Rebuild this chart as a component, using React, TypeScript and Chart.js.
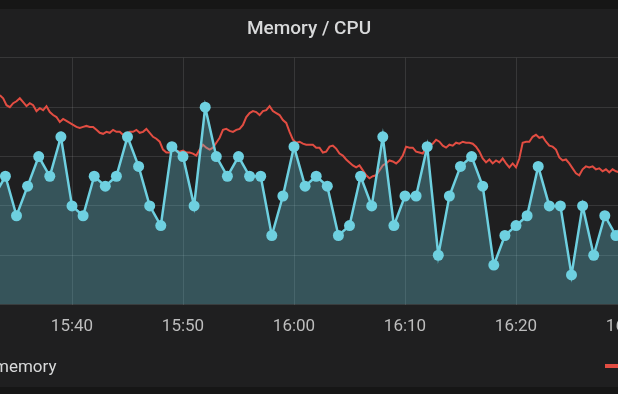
import { useEffect, useRef } from "react";
import { Chart, registerables } from "chart.js";

Chart.register(...registerables);

const TITLE = "Memory / CPU";
const SERIES_NAMES = ["memory", "cpu"];
const TICK_MINUTES = [930, 940, 950, 960, 970, 980, 990];

// memory: one value per minute starting at 15:33
const MEMORY_START = 933;
const MEMORY = [
  11, 13, 9, 12, 15, 13, 17, 10, 9, 13, 12, 13, 17, 14, 10, 8, 16, 15, 10, 20,
  15, 13, 15, 13, 13, 7, 11, 16, 12, 13, 12, 7, 8, 13, 10, 17, 8, 11, 11, 16,
  5, 11, 14, 15, 12, 4, 7, 8, 9, 14, 10, 10, 3, 10, 5, 9, 7, 9,
];

// cpu: sampled every 0.3 minute starting at 15:33.5
const CPU_START = 933.5;
const CPU_STEP = 0.3;
const CPU = [
  21.2, 20.9, 20.2, 20.0, 20.4, 20.6, 20.9, 20.5, 20.1, 20.4, 20.2, 19.6, 19.9, 19.7, 20.1, 19.5,
  19.2, 19.0, 18.5, 18.8, 18.6, 18.4, 18.2, 18.0, 17.9, 18.0, 18.1, 18.0, 18.0, 17.7, 17.4, 17.3,
  17.5, 17.4, 17.7, 17.5, 17.5, 17.2, 17.3, 17.5, 17.5, 17.7, 17.4, 17.5, 17.8, 17.4, 17.0, 16.8,
  16.5, 15.7, 15.4, 15.4, 15.9, 15.6, 15.5, 15.6, 15.4, 15.4, 15.3, 15.1, 15.7, 16.2, 15.9,
  15.7, 15.9, 16.4, 16.9, 17.7, 17.8, 17.6, 17.5, 17.7, 17.8, 18.2, 19.0, 19.4, 19.6, 19.5, 19.2,
  19.6, 19.7, 20.1, 19.6, 19.4, 19.2, 18.7, 18.4, 17.5, 16.7, 16.4, 16.5, 16.3, 16.2, 16.2,
  16.2, 15.9, 15.9, 15.4, 15.5, 16.0, 16.1, 15.8, 15.3, 15.1, 14.7, 14.4, 14.1, 13.9, 14.1, 13.6,
  13.1, 12.8, 13.0, 13.1, 13.6, 14.1, 14.3, 14.6, 14.5, 14.3, 14.6, 15.1, 16.0, 15.9,
  15.9, 15.5, 15.4, 15.3, 15.9, 16.1, 16.3, 16.7, 16.5, 16.1, 15.9, 16.2, 16.1, 16.4, 16.3, 16.5,
  16.4, 16.4, 16.3, 16.0, 15.5, 14.8, 14.4, 14.7, 14.3, 14.6, 14.4, 14.8, 14.3, 13.9, 14.3,
  13.9, 14.8, 16.4, 16.5, 16.5, 17.0, 17.2, 16.9, 17.0, 16.5, 16.1, 16.0, 15.7, 14.9, 14.6, 14.7,
  14.3, 13.8, 13.3, 13.1, 13.7, 14.0, 13.9, 14.0, 13.7, 13.8, 13.5, 13.7, 13.4, 13.7, 13.5, 13.4,
];

const Y_MIN = 0;
const Y_MAX = 25;
const Y_STEP = 5;

// visible window mapping
const X_MIN = 924.5045;
const X_MAX = 998.198;

const TEAL = "#6ed0e0";
const RED = "#e24d42";
const PANEL_BG = "#1f1f20";
const PAGE_BG = "#161616";
const GRID = "rgba(255,255,255,0.11)";
const FONT = "Roboto, 'Noto Sans', sans-serif";

function fmt(m: number) {
  const h = Math.floor(m / 60);
  const mm = Math.round(m % 60);
  return `${h}:${mm < 10 ? "0" + mm : mm}`;
}

export default function App() {
  const ref = useRef<HTMLCanvasElement | null>(null);

  useEffect(() => {
    if (!ref.current) return;
    const memData = MEMORY.map((v, i) => ({ x: MEMORY_START + i, y: v }));
    const cpuData = CPU.map((v, i) => ({ x: CPU_START + i * CPU_STEP, y: v }));
    const chart = new Chart(ref.current, {
      type: "line",
      data: {
        datasets: [
          {
            label: SERIES_NAMES[0],
            data: memData,
            borderColor: TEAL,
            backgroundColor: "rgba(110,208,224,0.3)",
            pointBackgroundColor: TEAL,
            pointBorderColor: TEAL,
            pointRadius: 5.5,
            pointBorderWidth: 0,
            borderWidth: 2.5,
            fill: "origin",
            tension: 0,
          },
          {
            label: SERIES_NAMES[1],
            data: cpuData,
            borderColor: RED,
            backgroundColor: RED,
            pointRadius: 0,
            borderWidth: 2,
            fill: false,
            tension: 0,
          },
        ],
      },
      options: {
        animation: false,
        responsive: false,
        maintainAspectRatio: false,
        layout: { autoPadding: false, padding: { left: 0, right: 0, top: 0, bottom: 45 } },
        plugins: {
          legend: { display: false },
          tooltip: { enabled: false },
          title: {
            display: true,
            text: TITLE,
            color: "#d8d9da",
            font: { family: FONT, size: 19, weight: "500" as any },
            padding: { top: 18, bottom: 17 },
          },
        },
        scales: {
          x: {
            type: "linear",
            min: X_MIN,
            max: X_MAX,
            afterBuildTicks: (axis: any) => {
              axis.ticks = TICK_MINUTES.map((v) => ({ value: v }));
            },
            afterFit: (axis: any) => {
              axis.paddingLeft = 0;
              axis.paddingRight = 0;
            },
            ticks: {
              color: "#bdbdbd",
              font: { family: FONT, size: 17 },
              padding: 12,
              maxRotation: 0,
              autoSkip: false,
              callback: (v: any) => fmt(Number(v)),
            },
            grid: { color: GRID, drawTicks: false },
            border: { display: false },
          },
          y: {
            min: Y_MIN,
            max: Y_MAX,
            afterFit: (axis: any) => {
              axis.width = 0;
              axis.paddingTop = 0;
              axis.paddingBottom = 0;
            },
            ticks: { display: false, stepSize: Y_STEP },
            grid: { color: GRID, drawTicks: false },
            border: { display: false },
          },
        },
      },
    });
    return () => chart.destroy();
  }, []);

  return (
    <div
      style={{
        position: "fixed",
        left: 0,
        top: 0,
        width: 618,
        height: 394,
        overflow: "hidden",
        background: PANEL_BG,
        fontFamily: FONT,
      }}
    >
      <div style={{ position: "absolute", left: 0, top: 0, width: 618, height: 9, background: PAGE_BG }} />
      <div style={{ position: "absolute", left: 0, top: 387, width: 618, height: 7, background: PAGE_BG }} />
      <canvas
        ref={ref}
        width={818}
        height={394}
        style={{ position: "absolute", left: -100, top: 0, width: 818, height: 394 }}
      />
      <div style={{ position: "absolute", left: -30, top: 364, width: 18, height: 4, background: TEAL }} />
      <div
        style={{
          position: "absolute",
          left: -6,
          top: 355,
          fontSize: 17,
          lineHeight: "22px",
          color: "#d8d9da",
          whiteSpace: "nowrap",
        }}
      >
        {SERIES_NAMES[0]}
      </div>
      <div style={{ position: "absolute", left: 605, top: 364, width: 20, height: 4, background: RED }} />
      <div
        style={{
          position: "absolute",
          left: 630,
          top: 355,
          fontSize: 17,
          lineHeight: "22px",
          color: "#d8d9da",
          whiteSpace: "nowrap",
        }}
      >
        {SERIES_NAMES[1]}
      </div>
    </div>
  );
}
